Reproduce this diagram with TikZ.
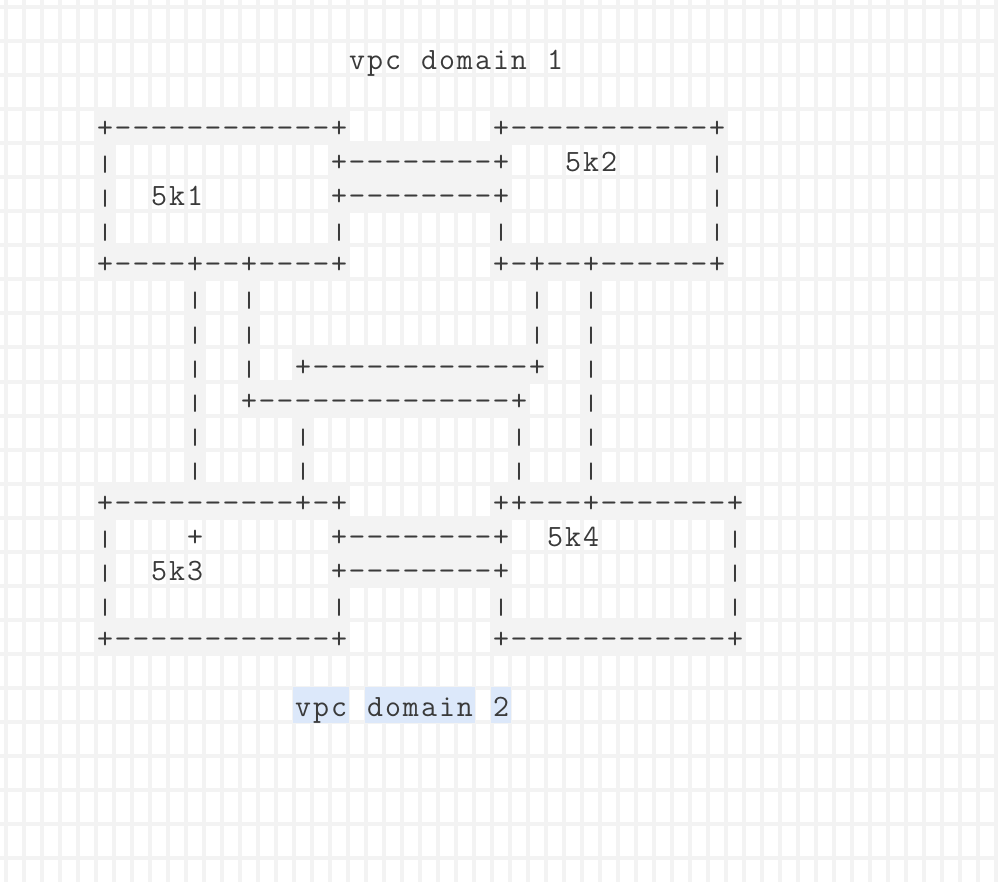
\documentclass[tikz,border=0pt]{standalone}
\usepackage{fontspec}
\usepackage{graphicx}
\definecolor{gridgray}{RGB}{243,243,243}
\definecolor{cellgray}{RGB}{243,243,243}
\definecolor{selblue}{RGB}{220,232,250}
\definecolor{ink}{RGB}{58,58,58}
\makeatletter
\def\spaced#1{\spaced@#1\relax}
\def\spaced@#1{\ifx#1\relax\else\makebox[18pt][c]{#1}\expandafter\spaced@\fi}
\makeatother
\pgfdeclarelayer{gridlayer}
\pgfdeclarelayer{celllayer}
\pgfsetlayers{gridlayer,celllayer,main}
\tikzset{
  ch/.style={font=\ttfamily\fontsize{31}{31}\selectfont, text=ink, anchor=base, inner sep=0pt, outer sep=0pt},
  lbl/.style={font=\ttfamily\fontsize{31}{31}\selectfont, text=ink, anchor=base west, inner sep=0pt, outer sep=0pt},
  gridline/.style={draw=gridgray, line width=4pt},
}
\newcommand\GC[2]{\begin{pgfonlayer}{celllayer}\fill[cellgray] ([shift={(-11pt,30.5pt)}]#1,#2) rectangle ([shift={(11pt,-7.5pt)}]#1,#2);\end{pgfonlayer}}
\newcommand\BC[2]{\begin{pgfonlayer}{celllayer}\fill[selblue] ([shift={(-10pt,29.5pt)}]#1,#2) rectangle ([shift={(10pt,-6.5pt)}]#1,#2);\end{pgfonlayer}}
\newcommand\Pl[2]{\GC{#1}{#2}\node[ch] (p#1-#2) at (#1,#2) {+};}
\newcommand\Da[2]{\GC{#1}{#2}\node[ch] (d#1-#2) at (#1,#2) {\scalebox{1.05}[1]{-}};}
\newcommand\Vb[2]{\GC{#1}{#2}\node[ch] (v#1-#2) at (#1,#2) {\scalebox{1}[0.72]{|}};}
\newcommand\Hd[3]{\foreach \cc in {#2,...,#3}{\Da{\cc}{#1}}}
\begin{document}
\begin{tikzpicture}
\useasboundingbox (0,0) rectangle (998pt,-882pt);
\begin{pgfonlayer}{gridlayer}
\fill[white] (0,0) rectangle (998pt,-882pt);
\foreach \k in {0,...,55}{\draw[gridline] ({(6+18*\k)*1pt},0pt) -- ({(6+18*\k)*1pt},-882pt);}
\foreach \k in {0,...,25}{\draw[gridline] (0pt,{-(7.5+34*\k)*1pt}) -- (998pt,{-(7.5+34*\k)*1pt});}
\end{pgfonlayer}
\begin{scope}[x=18pt,y=-34pt,shift={(15pt,-36pt)}]
% row 3
\Pl{5}{3}\Hd{3}{6}{17}\Pl{18}{3}
\Pl{27}{3}\Hd{3}{28}{38}\Pl{39}{3}
% row 4
\Vb{5}{4}\Pl{18}{4}\Hd{4}{19}{26}\Pl{27}{4}\Vb{39}{4}
% row 5
\Vb{5}{5}\Pl{18}{5}\Hd{5}{19}{26}\Pl{27}{5}\Vb{39}{5}
% row 6
\Vb{5}{6}\Vb{18}{6}\Vb{27}{6}\Vb{39}{6}
% row 7
\Pl{5}{7}\Hd{7}{6}{9}\Pl{10}{7}\Hd{7}{11}{12}\Pl{13}{7}\Hd{7}{14}{17}\Pl{18}{7}
\Pl{27}{7}\Da{28}{7}\Pl{29}{7}\Hd{7}{30}{31}\Pl{32}{7}\Hd{7}{33}{38}\Pl{39}{7}
% rows 8-9
\foreach \rr in {8,9}{\Vb{10}{\rr}\Vb{13}{\rr}\Vb{29}{\rr}\Vb{32}{\rr}}
% row 10
\Vb{10}{10}\Vb{13}{10}\Pl{16}{10}\Hd{10}{17}{28}\Pl{29}{10}\Vb{32}{10}
% row 11
\Vb{10}{11}\Pl{13}{11}\Hd{11}{14}{27}\Pl{28}{11}\Vb{32}{11}
% rows 12-13
\foreach \rr in {12,13}{\Vb{10}{\rr}\Vb{16}{\rr}\Vb{28}{\rr}\Vb{32}{\rr}}
% row 14
\Pl{5}{14}\Hd{14}{6}{15}\Pl{16}{14}\Da{17}{14}\Pl{18}{14}
\Pl{27}{14}\Pl{28}{14}\Hd{14}{29}{31}\Pl{32}{14}\Hd{14}{33}{39}\Pl{40}{14}
% row 15
\Vb{5}{15}\node[ch] (p10-15) at (10,15) {+};\Pl{18}{15}\Hd{15}{19}{26}\Pl{27}{15}\Vb{40}{15}
% row 16
\Vb{5}{16}\Pl{18}{16}\Hd{16}{19}{26}\Pl{27}{16}\Vb{40}{16}
% row 17
\Vb{5}{17}\Vb{18}{17}\Vb{27}{17}\Vb{40}{17}
% row 18
\Pl{5}{18}\Hd{18}{6}{17}\Pl{18}{18}\Pl{27}{18}\Hd{18}{28}{39}\Pl{40}{18}
% labels
\node[lbl] (title1) at ([xshift=-9pt]19,1) {\spaced{vpc~domain~1}};
\node[lbl] (k1) at ([xshift=-9pt]8,5) {\spaced{5k1}};
\node[lbl] (k2) at ([xshift=-9pt]31,4) {\spaced{5k2}};
\node[lbl] (k3) at ([xshift=-9pt]8,16) {\spaced{5k3}};
\node[lbl] (k4) at ([xshift=-9pt]30,15) {\spaced{5k4}};
\foreach \cc in {16,17,18,20,21,22,23,24,25,27}{\BC{\cc}{20}}
\node[lbl] (title2) at ([xshift=-9pt]16,20) {\spaced{vpc~domain~2}};
\end{scope}
\end{tikzpicture}
\end{document}
